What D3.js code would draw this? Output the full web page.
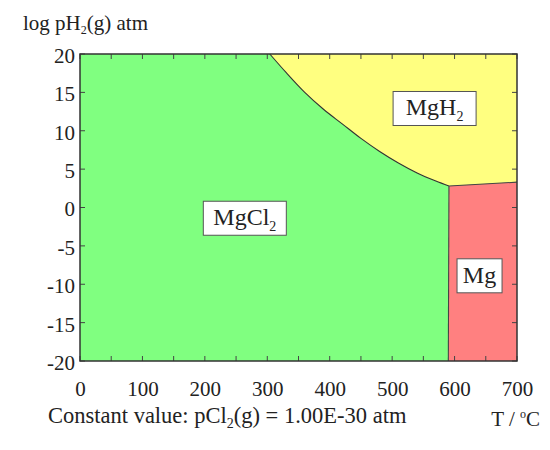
<!DOCTYPE html>
<html><head><meta charset="utf-8">
<script src="https://cdn.jsdelivr.net/npm/d3@7"></script>
<style>body{margin:0;background:#fff}svg{display:block}text{font-family:"Liberation Serif","DejaVu Serif",serif;fill:#222}</style>
</head><body><svg id="c" width="550" height="450"></svg>
<script>
// Data
const xTicks = [0,100,200,300,400,500,600,700];
const yTicks = [20,15,10,5,0,-5,-10,-15,-20];
// MgCl2 / MgH2 boundary
const curveT    = [304, 330, 360, 390, 420, 450, 480, 510, 540, 570, 591];
const curveLogP = [20, 17.6, 15.0, 12.8, 10.9, 9.0, 7.3, 5.8, 4.5, 3.45, 2.8];
// Mg / MgH2 boundary
const mgH2T = [591, 700];
const mgH2LogP = [2.8, 3.3];
// Mg / MgCl2 boundary
const mgClT = [591, 590];
const mgClLogP = [2.8, -20];
// region labels
const labelNames = ["MgCl","MgH","Mg"];
const labelSubs = ["2","2",""];
const labelT = [264, 568, 640];
const labelLogP = [-1.4, 12.9, -8.9];
const labelBoxW = [83, 83, 45];

const svg = d3.select("#c");
const x = d3.scaleLinear().domain([0,700]).range([80,517]);
const y = d3.scaleLinear().domain([-20,20]).range([361,54]);
const [x0,x1] = x.range(), [y0,y1] = y.range();
const xd = x.domain(), yd = y.domain();

const curvePts = curveT.map((t,i)=>[t,curveLogP[i]]);
const line = d3.line().x(d=>x(d[0])).y(d=>y(d[1]));
const smooth = d3.line().x(d=>x(d[0])).y(d=>y(d[1])).curve(d3.curveMonotoneX);

// green MgCl2 background
svg.append("rect").attr("x",x0).attr("y",y1).attr("width",x1-x0).attr("height",y0-y1).attr("fill","#80ff80");
// yellow MgH2
const yellowPath = smooth(curvePts) + "L" + x(mgH2T[1]) + "," + y(mgH2LogP[1]) + "L" + x(xd[1]) + "," + y(yd[1]) + "Z";
svg.append("path").attr("d", yellowPath).attr("fill","#ffff80");
// red Mg
const redPts = [[mgClT[1],mgClLogP[1]],[mgClT[0],mgClLogP[0]],[mgH2T[1],mgH2LogP[1]],[xd[1],yd[0]]];
svg.append("path").attr("d", line(redPts)+"Z").attr("fill","#ff8080");

// boundary lines
svg.append("path").attr("d", smooth(curvePts)).attr("fill","none").attr("stroke","#333").attr("stroke-width",1.1);
svg.append("path").attr("d", line(mgH2T.map((t,i)=>[t,mgH2LogP[i]]))).attr("fill","none").attr("stroke","#444").attr("stroke-width",1.1);
svg.append("path").attr("d", line(mgClT.map((t,i)=>[t,mgClLogP[i]]))).attr("fill","none").attr("stroke","#444").attr("stroke-width",1.1);

// ticks (inward, all sides)
const xMinor = d3.range(0,701,50);
const tickG = svg.append("g").attr("stroke","#444").attr("stroke-width",1);
xMinor.forEach(t=>{
  tickG.append("line").attr("x1",x(t)).attr("x2",x(t)).attr("y1",y0).attr("y2",y0-5);
  tickG.append("line").attr("x1",x(t)).attr("x2",x(t)).attr("y1",y1).attr("y2",y1+5);
});
yTicks.forEach(v=>{
  tickG.append("line").attr("x1",x0).attr("x2",x0+5).attr("y1",y(v)).attr("y2",y(v));
  tickG.append("line").attr("x1",x1).attr("x2",x1-5).attr("y1",y(v)).attr("y2",y(v));
});
// frame
svg.append("rect").attr("x",x0).attr("y",y1).attr("width",x1-x0).attr("height",y0-y1).attr("fill","none").attr("stroke","#333").attr("stroke-width",1.5);

// axes labels via d3 axis
const xAxis = svg.append("g").attr("transform",`translate(0,${y0})`)
  .call(d3.axisBottom(x).tickValues(xTicks).tickSize(0).tickPadding(20).tickFormat(d=>String(d)));
xAxis.select(".domain").remove();
xAxis.selectAll("text").attr("font-size",21).attr("fill","#222");
const yAxis = svg.append("g").attr("transform",`translate(${x0},0)`)
  .call(d3.axisLeft(y).tickValues(yTicks).tickSize(0).tickPadding(5).tickFormat(d=>String(d)));
yAxis.select(".domain").remove();
yAxis.selectAll("text").attr("font-size",21).attr("fill","#222").attr("dy","0.4em");

// region labels with boxes
labelNames.forEach((n,i)=>{
  const cx = x(labelT[i]), cy = y(labelLogP[i]);
  const w = labelBoxW[i], h = 34;
  svg.append("rect").attr("x",cx-w/2).attr("y",cy-h/2).attr("width",w).attr("height",h)
    .attr("fill","#fff").attr("stroke","#555").attr("stroke-width",1);
  const t = svg.append("text").attr("x",cx).attr("y",cy+7).attr("text-anchor","middle").attr("font-size",24);
  t.append("tspan").text(n);
  if(labelSubs[i]) t.append("tspan").attr("font-size",14).attr("dy",6).text(labelSubs[i]);
});

// titles
const yt = svg.append("text").attr("x",23).attr("y",30).attr("font-size",21);
yt.append("tspan").text("log pH");
yt.append("tspan").attr("font-size",12).attr("dy",4).text("2");
yt.append("tspan").attr("dy",-4).text("(g) atm");

const xt = svg.append("text").attr("x",540).attr("y",426).attr("text-anchor","end").attr("font-size",21);
xt.append("tspan").text("T / ");
xt.append("tspan").attr("font-size",12).attr("dy",-8).text("o");
xt.append("tspan").attr("dy",8).text("C");

const ct = svg.append("text").attr("x",48).attr("y",423).attr("font-size",22.5);
ct.append("tspan").text("Constant value: pCl");
ct.append("tspan").attr("font-size",14).attr("dy",5).text("2");
ct.append("tspan").attr("dy",-5).text("(g) = 1.00E-30 atm");
</script></body></html>
